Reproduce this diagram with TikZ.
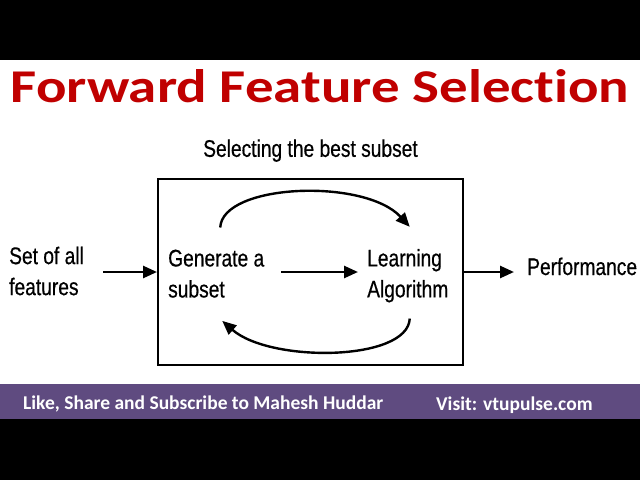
\documentclass[tikz,border=0pt]{standalone}
\usepackage{fontspec}
\usepackage{tikz}
\usetikzlibrary{positioning, arrows.meta, calc}
\newfontfamily\diagfont[FakeStretch=0.8, FakeBold=0.5]{Liberation Sans}
\newfontfamily\titlefont[FakeStretch=1.21, Ligatures=NoCommon]{Carlito}
\newfontfamily\footfont{Carlito}
\definecolor{titlered}{HTML}{C00000}
\definecolor{footpurple}{HTML}{5F4B80}

\begin{document}
\begin{tikzpicture}[x=1pt, y=-1pt, >={Triangle[length=14pt,width=12pt]},
    txt/.style={font=\diagfont\fontsize{24}{31}\selectfont, inner sep=0pt, align=left},
    foot/.style={anchor=base west, text=white, inner sep=0pt, font=\footfont\bfseries\fontsize{19.5}{21}\selectfont},
    flow/.style={->, line width=2.6pt},
    cycle/.style={->, line width=2.4pt}]
      \useasboundingbox (0,0) rectangle (640,480);
      \fill[white] (0,0) rectangle (640,480);
      \fill[black] (0,0) rectangle (640,60);
      \fill[footpurple] (0,384) rectangle (640,419);
      \fill[black] (0,419) rectangle (640,480);
      \node[anchor=base, text=titlered, inner sep=0pt, font=\titlefont\bfseries\fontsize{47}{50}\selectfont] (title) at (320,102) {Forward Feature Selection};
      \node[foot] (like) at (23,409) {Like, Share and Subscribe to Mahesh Huddar};
      \node[foot] (visit) at (436,410) {Visit: vtupulse.com};

      \node[draw, line width=2pt, minimum width=305pt, minimum height=186pt, inner sep=0pt] (box) at (310.5,272) {};
      \node[txt, above=16pt of box] (best) {Selecting the best subset};
      \node[txt, anchor=north west] (setall) at (9,246.5) {Set of all\\features};
      \node[txt, anchor=north west] (gen) at (168,249.5) {Generate a\\subset};
      \node[txt, anchor=north west] (learn) at (367,248.8) {Learning\\Algorithm};
      \node[txt, anchor=base west] (perf) at (527,275) {Performance};

      \draw[flow] ([xshift=19pt]setall.east |- box.west) -- (box.west);
      \draw[flow] ([xshift=17pt]gen.east |- box.center) -- ([xshift=-9pt]learn.west |- box.center);
      \draw[flow] (box.east) -- ([xshift=-13pt]perf.west |- box.east);
      \draw[cycle] ([xshift=4pt,yshift=22pt]gen.north) .. controls +(2,-44) and +(-45,-49) .. ([xshift=2pt,yshift=22pt]learn.north);
      \draw[cycle] ([xshift=2pt,yshift=-16pt]learn.south) .. controls +(-2,43) and +(48,42) .. ([xshift=6pt,yshift=-23pt]gen.south);
    \end{tikzpicture}
\end{document}
